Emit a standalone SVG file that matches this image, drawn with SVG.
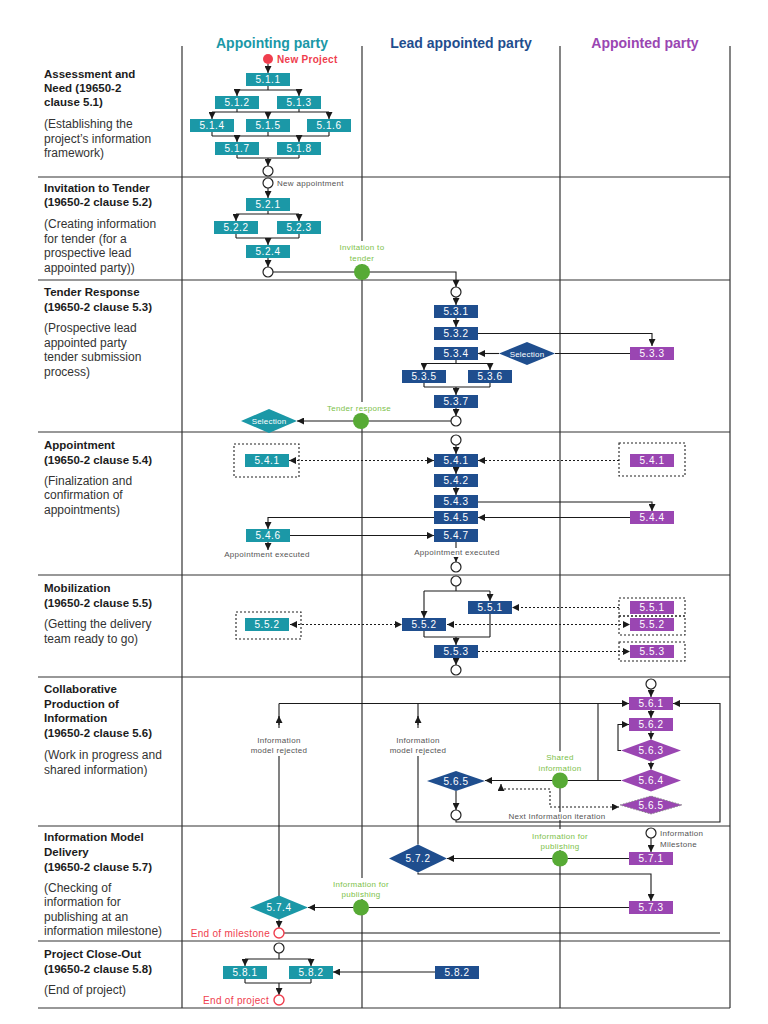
<svg xmlns="http://www.w3.org/2000/svg" width="768" height="1024" viewBox="0 0 768 1024">
<style>
text{font-family:"Liberation Sans","DejaVu Sans",sans-serif}
.t{fill:#1b98a7}.b{fill:#1f4e8e}.p{fill:#9a46b2}
.bx{font-size:10px;fill:#fff;text-anchor:middle;letter-spacing:0.6px}
.sel{font-size:8px;fill:#fff;text-anchor:middle;letter-spacing:0.2px}
.ln{fill:none;stroke:#1a1a1a;stroke-width:1.1}
.dt{fill:none;stroke:#1a1a1a;stroke-width:1.1;stroke-dasharray:2 2}
.db{fill:none;stroke:#222;stroke-width:1.1;stroke-dasharray:2 2}
.oc{fill:#fff;stroke:#222;stroke-width:1.2}
.rc{fill:#fff;stroke:#ef3e4e;stroke-width:1.4}
.gc{fill:#57aa35}
.gl{font-size:8px;fill:#7dbf4a;text-anchor:middle;letter-spacing:0.3px}
.sl{font-size:8px;fill:#555;letter-spacing:0.3px}
.rl{font-size:10px;fill:#ef3e4e;letter-spacing:0.3px}
.hd{font-size:14px;font-weight:bold;text-anchor:middle}
.st{font-size:11.5px;font-weight:bold;fill:#1c1c1c}
.sd{font-size:12px;fill:#333}
.grid{stroke:#333;stroke-width:1.2}
.wb{fill:#fff}
</style>
<defs>
<marker id="ar" viewBox="0 0 7 7" refX="7" refY="3.5" markerWidth="7" markerHeight="7" markerUnits="userSpaceOnUse" orient="auto-start-reverse">
<path d="M0,0 L7,3.5 L0,7 z" fill="#1a1a1a"/>
</marker>
</defs>
<rect width="768" height="1024" fill="#fff"/>

<g id="grid" class="grid">
<line x1="182" y1="46" x2="182" y2="1008"/>
<line x1="362" y1="46" x2="362" y2="1008"/>
<line x1="560" y1="46" x2="560" y2="1008"/>
<line x1="730" y1="46" x2="730" y2="1008"/>
<line x1="38" y1="177" x2="730" y2="177"/>
<line x1="38" y1="280" x2="730" y2="280"/>
<line x1="38" y1="432" x2="730" y2="432"/>
<line x1="38" y1="575" x2="730" y2="575"/>
<line x1="38" y1="677" x2="730" y2="677"/>
<line x1="38" y1="826" x2="730" y2="826"/>
<line x1="38" y1="941" x2="730" y2="941"/>
<line x1="38" y1="1008" x2="730" y2="1008"/>
</g>

<g id="headers">
<text class="hd" x="272" y="48" fill="#1b98a7">Appointing party</text>
<text class="hd" x="461" y="48" fill="#1f4e8e">Lead appointed party</text>
<text class="hd" x="645" y="48" fill="#9a46b2">Appointed party</text>
</g>

<g id="stages">
<text class="st" x="44" y="78">Assessment and</text>
<text class="st" x="44" y="92">Need (19650-2</text>
<text class="st" x="44" y="106">clause 5.1)</text>
<text class="sd" x="44" y="128">(Establishing the</text>
<text class="sd" x="44" y="143">project’s information</text>
<text class="sd" x="44" y="157">framework)</text>

<text class="st" x="44" y="192">Invitation to Tender</text>
<text class="st" x="44" y="206">(19650-2 clause 5.2)</text>
<text class="sd" x="44" y="228">(Creating information</text>
<text class="sd" x="44" y="243">for tender (for a</text>
<text class="sd" x="44" y="257">prospective lead</text>
<text class="sd" x="44" y="272">appointed party))</text>

<text class="st" x="44" y="296">Tender Response</text>
<text class="st" x="44" y="311">(19650-2 clause 5.3)</text>
<text class="sd" x="44" y="332">(Prospective lead</text>
<text class="sd" x="44" y="347">appointed party</text>
<text class="sd" x="44" y="361">tender submission</text>
<text class="sd" x="44" y="376">process)</text>

<text class="st" x="44" y="449">Appointment</text>
<text class="st" x="44" y="464">(19650-2 clause 5.4)</text>
<text class="sd" x="44" y="485">(Finalization and</text>
<text class="sd" x="44" y="499">confirmation of</text>
<text class="sd" x="44" y="514">appointments)</text>

<text class="st" x="44" y="592">Mobilization</text>
<text class="st" x="44" y="607">(19650-2 clause 5.5)</text>
<text class="sd" x="44" y="628">(Getting the delivery</text>
<text class="sd" x="44" y="643">team ready to go)</text>

<text class="st" x="44" y="693">Collaborative</text>
<text class="st" x="44" y="708">Production of</text>
<text class="st" x="44" y="722">Information</text>
<text class="st" x="44" y="737">(19650-2 clause 5.6)</text>
<text class="sd" x="44" y="759">(Work in progress and</text>
<text class="sd" x="44" y="774">shared information)</text>

<text class="st" x="44" y="841">Information Model</text>
<text class="st" x="44" y="856">Delivery</text>
<text class="st" x="44" y="871">(19650-2 clause 5.7)</text>
<text class="sd" x="44" y="892">(Checking of</text>
<text class="sd" x="44" y="906">information for</text>
<text class="sd" x="44" y="921">publishing at an</text>
<text class="sd" x="44" y="935">information milestone)</text>

<text class="st" x="44" y="958">Project Close-Out</text>
<text class="st" x="44" y="973">(19650-2 clause 5.8)</text>
<text class="sd" x="44" y="994">(End of project)</text>
</g>

<g id="connectors">
<path class="ln" d="M268 64 V73" marker-end="url(#ar)"/>
<path class="ln" d="M268 86 V90 M237 90 H299"/>
<path class="ln" d="M237 90 V96" marker-end="url(#ar)"/>
<path class="ln" d="M299 90 V96" marker-end="url(#ar)"/>
<path class="ln" d="M237 109 V112 M299 109 V112 M212 112 H329"/>
<path class="ln" d="M212 112 V119" marker-end="url(#ar)"/>
<path class="ln" d="M268 112 V119" marker-end="url(#ar)"/>
<path class="ln" d="M329 112 V119" marker-end="url(#ar)"/>
<path class="ln" d="M212 132 V136 M268 132 V136 M329 132 V136 M212 136 H329"/>
<path class="ln" d="M237 136 V142" marker-end="url(#ar)"/>
<path class="ln" d="M299 136 V142" marker-end="url(#ar)"/>
<path class="ln" d="M237 155 V158 M299 155 V158 M237 158 H299"/>
<path class="ln" d="M268 158 V166" marker-end="url(#ar)"/>
<path class="ln" d="M268 188 V198" marker-end="url(#ar)"/>
<path class="ln" d="M268 211 V214 M236 214 H299"/>
<path class="ln" d="M236 214 V221" marker-end="url(#ar)"/>
<path class="ln" d="M299 214 V221" marker-end="url(#ar)"/>
<path class="ln" d="M236 234 V238 M299 234 V238 M236 238 H299"/>
<path class="ln" d="M268 238 V245" marker-end="url(#ar)"/>
<path class="ln" d="M268 258 V267" marker-end="url(#ar)"/>
<path class="ln" d="M273 272 H456 V287" marker-end="url(#ar)"/>
<path class="ln" d="M456 297 V305" marker-end="url(#ar)"/>
<path class="ln" d="M456 318 V327" marker-end="url(#ar)"/>
<path class="ln" d="M478 333.5 H652 V346" marker-end="url(#ar)"/>
<path class="ln" d="M630 353.5 H555"/>
<path class="ln" d="M499 353.5 H478" marker-end="url(#ar)"/>
<path class="ln" d="M456 360 V363.5 M424 363.5 H490"/>
<path class="ln" d="M424 363.5 V370" marker-end="url(#ar)"/>
<path class="ln" d="M490 363.5 V370" marker-end="url(#ar)"/>
<path class="ln" d="M424 383 V387 M490 383 V387 M424 387 H490"/>
<path class="ln" d="M456 387 V395" marker-end="url(#ar)"/>
<path class="ln" d="M456 408 V416" marker-end="url(#ar)"/>
<path class="ln" d="M451 421 H297" marker-end="url(#ar)"/>
<path class="ln" d="M456 445 V454" marker-end="url(#ar)"/>
<path class="dt" d="M289 460.5 H434" marker-start="url(#ar)" marker-end="url(#ar)"/>
<path class="dt" d="M619 460.5 H478" marker-end="url(#ar)"/>
<path class="ln" d="M456 467 V474" marker-end="url(#ar)"/>
<path class="ln" d="M456 487 V495" marker-end="url(#ar)"/>
<path class="ln" d="M478 502 H652 V511" marker-end="url(#ar)"/>
<path class="ln" d="M630 517.5 H478" marker-end="url(#ar)"/>
<path class="ln" d="M434 517.5 H268 V529" marker-end="url(#ar)"/>
<path class="ln" d="M290 535.5 H434" marker-end="url(#ar)"/>
<path class="ln" d="M268 542 V550" marker-end="url(#ar)"/>
<path class="ln" d="M456 542 V562" marker-end="url(#ar)"/>
<path class="ln" d="M456 586 V591 M424 591 H490"/>
<path class="ln" d="M424 591 V618" marker-end="url(#ar)"/>
<path class="ln" d="M490 591 V601" marker-end="url(#ar)"/>
<path class="ln" d="M424 631 V637 M490 614 V637 M424 637 H490"/>
<path class="ln" d="M456 637 V645" marker-end="url(#ar)"/>
<path class="ln" d="M456 658 V665" marker-end="url(#ar)"/>
<path class="dt" d="M290 624.5 H402" marker-start="url(#ar)" marker-end="url(#ar)"/>
<path class="dt" d="M619 607.5 H512" marker-end="url(#ar)"/>
<path class="dt" d="M447 624.5 H630" marker-start="url(#ar)" marker-end="url(#ar)"/>
<path class="dt" d="M478 651.5 H630" marker-end="url(#ar)"/>
<path class="ln" d="M651 689 V697" marker-end="url(#ar)"/>
<path class="ln" d="M651 710 V718" marker-end="url(#ar)"/>
<path class="ln" d="M651 731 V739.5" marker-end="url(#ar)"/>
<path class="ln" d="M651 761.5 V769.5" marker-end="url(#ar)"/>
<path class="ln" d="M621 750.5 H618 V724.5 H629" marker-end="url(#ar)"/>
<path class="ln" d="M621 780.5 H485" marker-end="url(#ar)"/>
<path class="ln" d="M598 780.5 V703.5"/>
<path class="ln" d="M279 703.5 H629" marker-end="url(#ar)"/>
<path class="ln" d="M279 897 V703.5"/>
<path class="ln" d="M418 844.5 V703.5"/>
<path class="ln" d="M279 725 V716" marker-end="url(#ar)"/>
<path class="ln" d="M418 725 V716" marker-end="url(#ar)"/>
<path class="ln" d="M456 791 V810" marker-end="url(#ar)"/>
<path class="ln" d="M456 820 V822 H720 V703.5 H673" marker-end="url(#ar)"/>
<path class="dt" d="M501 784 V789 H550 V807 H619" marker-start="url(#ar)" marker-end="url(#ar)"/>
<path class="ln" d="M651 838 V852" marker-end="url(#ar)"/>
<path class="ln" d="M629 858.5 H447" marker-end="url(#ar)"/>
<path class="ln" d="M418 872.5 V874 H651 V901" marker-end="url(#ar)"/>
<path class="ln" d="M629 907.5 H308" marker-end="url(#ar)"/>
<path class="ln" d="M279 919.5 V928" marker-end="url(#ar)"/>
<path class="ln" d="M284 933 H720"/>
<path class="ln" d="M279 953 V959 M245 959 H311"/>
<path class="ln" d="M245 959 V966" marker-end="url(#ar)"/>
<path class="ln" d="M311 959 V966" marker-end="url(#ar)"/>
<path class="ln" d="M435 972 H333" marker-end="url(#ar)"/>
<path class="ln" d="M245 978 V983 M311 978 V983 M245 983 H311"/>
<path class="ln" d="M279 983 V995" marker-end="url(#ar)"/>
</g>

<g id="labels">
<rect class="wb" x="334" y="241" width="56" height="23"/>
<text class="gl" x="362" y="250">Invitation to</text>
<text class="gl" x="362" y="261">tender</text>
<rect class="wb" x="324" y="402" width="72" height="11"/>
<text class="gl" x="359" y="411">Tender response</text>
<rect class="wb" x="410" y="548" width="96" height="9"/>
<text class="sl" x="457" y="555" text-anchor="middle">Appointment executed</text>
<text class="sl" x="267" y="557" text-anchor="middle">Appointment executed</text>
<rect class="wb" x="248" y="728" width="62" height="28"/>
<text class="sl" x="279" y="743" text-anchor="middle">Information</text>
<text class="sl" x="279" y="753" text-anchor="middle">model rejected</text>
<rect class="wb" x="387" y="728" width="62" height="28"/>
<text class="sl" x="418" y="743" text-anchor="middle">Information</text>
<text class="sl" x="418" y="753" text-anchor="middle">model rejected</text>
<rect class="wb" x="530" y="751" width="60" height="22"/>
<text class="gl" x="560" y="760">Shared</text>
<text class="gl" x="560" y="771">information</text>
<rect class="wb" x="500" y="812" width="114" height="8"/>
<text class="sl" x="557" y="819" text-anchor="middle">Next Information iteration</text>
<rect class="wb" x="525" y="829" width="70" height="21"/>
<text class="gl" x="560" y="839">Information for</text>
<text class="gl" x="560" y="849">publishing</text>
<rect class="wb" x="326" y="878" width="70" height="21"/>
<text class="gl" x="361" y="887">Information for</text>
<text class="gl" x="361" y="897">publishing</text>
</g>

<g id="n-start1"><circle cx="268" cy="59" r="5" fill="#ef3e4e"/><text class="rl" x="277" y="63" font-weight="bold" font-size="11">New Project</text></g>
<g id="n-511"><rect class="t" x="246" y="73" width="44" height="13"/><text class="bx" x="268" y="83">5.1.1</text></g>
<g id="n-512"><rect class="t" x="215" y="96" width="44" height="13"/><text class="bx" x="237" y="106">5.1.2</text></g>
<g id="n-513"><rect class="t" x="277" y="96" width="44" height="13"/><text class="bx" x="299" y="106">5.1.3</text></g>
<g id="n-514"><rect class="t" x="190" y="119" width="44" height="13"/><text class="bx" x="212" y="129">5.1.4</text></g>
<g id="n-515"><rect class="t" x="246" y="119" width="44" height="13"/><text class="bx" x="268" y="129">5.1.5</text></g>
<g id="n-516"><rect class="t" x="307" y="119" width="44" height="13"/><text class="bx" x="329" y="129">5.1.6</text></g>
<g id="n-517"><rect class="t" x="215" y="142" width="44" height="13"/><text class="bx" x="237" y="152">5.1.7</text></g>
<g id="n-518"><rect class="t" x="277" y="142" width="44" height="13"/><text class="bx" x="299" y="152">5.1.8</text></g>
<g id="n-end1"><circle class="oc" cx="268" cy="171" r="5"/></g>

<g id="n-start2"><circle class="oc" cx="268" cy="183" r="5"/><text class="sl" x="277" y="186">New appointment</text></g>
<g id="n-521"><rect class="t" x="246" y="198" width="44" height="13"/><text class="bx" x="268" y="208">5.2.1</text></g>
<g id="n-522"><rect class="t" x="214" y="221" width="44" height="13"/><text class="bx" x="236" y="231">5.2.2</text></g>
<g id="n-523"><rect class="t" x="277" y="221" width="44" height="13"/><text class="bx" x="299" y="231">5.2.3</text></g>
<g id="n-524"><rect class="t" x="246" y="245" width="44" height="13"/><text class="bx" x="268" y="255">5.2.4</text></g>
<g id="n-end2"><circle class="oc" cx="268" cy="272" r="5"/></g>
<g id="n-invite"><circle class="gc" cx="362" cy="272" r="8"/></g>

<g id="n-start3"><circle class="oc" cx="456" cy="292" r="5"/></g>
<g id="n-531"><rect class="b" x="434" y="305" width="44" height="13"/><text class="bx" x="456" y="315">5.3.1</text></g>
<g id="n-532"><rect class="b" x="434" y="327" width="44" height="13"/><text class="bx" x="456" y="337">5.3.2</text></g>
<g id="n-533"><rect class="p" x="630" y="347" width="44" height="13"/><text class="bx" x="652" y="357">5.3.3</text></g>
<g id="n-534"><rect class="b" x="434" y="347" width="44" height="13"/><text class="bx" x="456" y="357">5.3.4</text></g>
<g id="n-sel1"><polygon class="b" points="499,353.5 527,342 555,353.5 527,365"/><text class="sel" x="527" y="356.5">Selection</text></g>
<g id="n-535"><rect class="b" x="402" y="370" width="44" height="13"/><text class="bx" x="424" y="380">5.3.5</text></g>
<g id="n-536"><rect class="b" x="468" y="370" width="44" height="13"/><text class="bx" x="490" y="380">5.3.6</text></g>
<g id="n-537"><rect class="b" x="434" y="395" width="44" height="13"/><text class="bx" x="456" y="405">5.3.7</text></g>
<g id="n-end3"><circle class="oc" cx="456" cy="421" r="5"/></g>
<g id="n-tender"><circle class="gc" cx="361" cy="421" r="8"/></g>
<g id="n-sel2"><polygon class="t" points="241,421 269,409 297,421 269,433"/><text class="sel" x="269" y="424">Selection</text></g>

<g id="n-start4"><circle class="oc" cx="456" cy="440" r="5"/></g>
<g id="n-541a"><rect class="db" x="234" y="444" width="65" height="33"/><rect class="t" x="245" y="454" width="44" height="13"/><text class="bx" x="267" y="464">5.4.1</text></g>
<g id="n-541b"><rect class="b" x="434" y="454" width="44" height="13"/><text class="bx" x="456" y="464">5.4.1</text></g>
<g id="n-541c"><rect class="db" x="619" y="443" width="66" height="33"/><rect class="p" x="630" y="454" width="44" height="13"/><text class="bx" x="652" y="464">5.4.1</text></g>
<g id="n-542"><rect class="b" x="434" y="474" width="44" height="13"/><text class="bx" x="456" y="484">5.4.2</text></g>
<g id="n-543"><rect class="b" x="434" y="495" width="44" height="13"/><text class="bx" x="456" y="505">5.4.3</text></g>
<g id="n-544"><rect class="p" x="630" y="511" width="44" height="13"/><text class="bx" x="652" y="521">5.4.4</text></g>
<g id="n-545"><rect class="b" x="434" y="511" width="44" height="13"/><text class="bx" x="456" y="521">5.4.5</text></g>
<g id="n-546"><rect class="t" x="246" y="529" width="44" height="13"/><text class="bx" x="268" y="539">5.4.6</text></g>
<g id="n-547"><rect class="b" x="434" y="529" width="44" height="13"/><text class="bx" x="456" y="539">5.4.7</text></g>
<g id="n-end4"><circle class="oc" cx="456" cy="567" r="5"/></g>

<g id="n-start5"><circle class="oc" cx="456" cy="581" r="5"/></g>
<g id="n-551b"><rect class="b" x="468" y="601" width="44" height="13"/><text class="bx" x="490" y="611">5.5.1</text></g>
<g id="n-552b"><rect class="b" x="402" y="618" width="44" height="13"/><text class="bx" x="424" y="628">5.5.2</text></g>
<g id="n-553b"><rect class="b" x="434" y="645" width="44" height="13"/><text class="bx" x="456" y="655">5.5.3</text></g>
<g id="n-end5"><circle class="oc" cx="456" cy="670" r="5"/></g>
<g id="n-552a"><rect class="db" x="236" y="612" width="65" height="27"/><rect class="t" x="245" y="618" width="44" height="13"/><text class="bx" x="267" y="628">5.5.2</text></g>
<g id="n-551c"><rect class="db" x="619" y="598" width="66" height="18"/><rect class="p" x="630" y="601" width="44" height="13"/><text class="bx" x="652" y="611">5.5.1</text></g>
<g id="n-552c"><rect class="db" x="619" y="616" width="66" height="19"/><rect class="p" x="630" y="618" width="44" height="13"/><text class="bx" x="652" y="628">5.5.2</text></g>
<g id="n-553c"><rect class="db" x="619" y="642" width="66" height="19"/><rect class="p" x="630" y="645" width="44" height="13"/><text class="bx" x="652" y="655">5.5.3</text></g>

<g id="n-start6"><circle class="oc" cx="651" cy="684" r="5"/></g>
<g id="n-561"><rect class="p" x="629" y="697" width="44" height="13"/><text class="bx" x="651" y="707">5.6.1</text></g>
<g id="n-562"><rect class="p" x="629" y="718" width="44" height="13"/><text class="bx" x="651" y="728">5.6.2</text></g>
<g id="n-563"><polygon class="p" points="621,750.5 651,739.5 681,750.5 651,761.5"/><text class="bx" x="651" y="754">5.6.3</text></g>
<g id="n-564"><polygon class="p" points="621,780.5 651,769.5 681,780.5 651,791.5"/><text class="bx" x="651" y="784">5.6.4</text></g>
<g id="n-565c"><polygon class="p" points="620,805 651,796 682,805 651,814" stroke="#888" stroke-width="1" stroke-dasharray="1.5 1.5"/><text class="bx" x="651" y="808.5">5.6.5</text></g>
<g id="n-565b"><polygon class="b" points="427,781 456,771 485,781 456,791"/><text class="bx" x="456" y="784.5">5.6.5</text></g>
<g id="n-end6"><circle class="oc" cx="456" cy="815" r="5"/></g>
<g id="n-shared"><circle class="gc" cx="560" cy="780.5" r="8"/></g>

<g id="n-milestone"><circle class="oc" cx="651" cy="833" r="5"/><text class="sl" x="660" y="836">Information</text><text class="sl" x="660" y="847">Milestone</text></g>
<g id="n-571"><rect class="p" x="629" y="852" width="44" height="13"/><text class="bx" x="651" y="862">5.7.1</text></g>
<g id="n-572"><polygon class="b" points="389,858.5 418,844.5 447,858.5 418,872.5"/><text class="bx" x="418" y="862">5.7.2</text></g>
<g id="n-publish1"><circle class="gc" cx="560" cy="858.5" r="8"/></g>
<g id="n-573"><rect class="p" x="629" y="901" width="44" height="13"/><text class="bx" x="651" y="911">5.7.3</text></g>
<g id="n-574"><polygon class="t" points="250,907.5 279,895.5 308,907.5 279,919.5"/><text class="bx" x="279" y="911">5.7.4</text></g>
<g id="n-publish2"><circle class="gc" cx="361" cy="907.5" r="8"/></g>
<g id="n-endms"><circle class="rc" cx="279" cy="933" r="5"/><text class="rl" x="270" y="936.5" text-anchor="end">End of milestone</text></g>

<g id="n-start8"><circle class="oc" cx="279" cy="948" r="5"/></g>
<g id="n-581"><rect class="t" x="223" y="966" width="44" height="13"/><text class="bx" x="245" y="976">5.8.1</text></g>
<g id="n-582a"><rect class="t" x="289" y="966" width="44" height="13"/><text class="bx" x="311" y="976">5.8.2</text></g>
<g id="n-582b"><rect class="b" x="435" y="966" width="44" height="13"/><text class="bx" x="457" y="976">5.8.2</text></g>
<g id="n-endproj"><circle class="rc" cx="279" cy="1000" r="5"/><text class="rl" x="269" y="1003.5" text-anchor="end">End of project</text></g>
</svg>
